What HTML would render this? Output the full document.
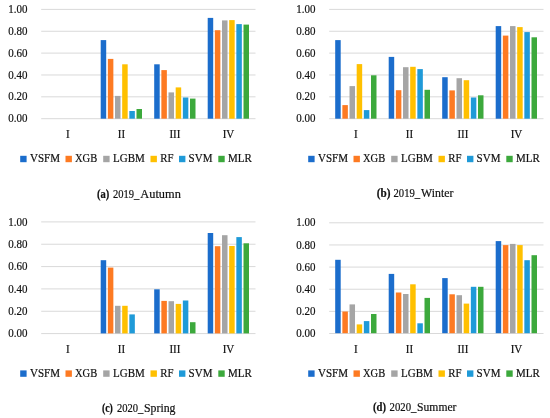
<!DOCTYPE html>
<html><head><meta charset="utf-8"><title>Figure</title>
<style>
html,body{margin:0;padding:0;background:#fff;}
body{width:550px;height:418px;overflow:hidden;}
svg{display:block;}
text{font-family:"Liberation Serif","DejaVu Serif",serif;fill:#111;stroke:#111;stroke-width:0.2px;}
.gl{stroke:#d9d9d9;stroke-width:1;}
.yl{font-size:12.2px;text-anchor:end;}
.xl{font-size:12px;text-anchor:middle;}
.lg{font-size:11.8px;}
.cap{font-size:11.5px;}
</style></head>
<body>
<svg width="550" height="418" viewBox="0 0 550 418">
<rect width="550" height="418" fill="#fff"/>
<g>
<line x1="41.2" x2="255.5" y1="118.7" y2="118.7" class="gl"/>
<line x1="41.2" x2="255.5" y1="96.84" y2="96.84" class="gl"/>
<line x1="41.2" x2="255.5" y1="74.98" y2="74.98" class="gl"/>
<line x1="41.2" x2="255.5" y1="53.12" y2="53.12" class="gl"/>
<line x1="41.2" x2="255.5" y1="31.26" y2="31.26" class="gl"/>
<line x1="41.2" x2="255.5" y1="9.4" y2="9.4" class="gl"/>
<text x="27.4" y="122.3" class="yl" textLength="19.2" lengthAdjust="spacingAndGlyphs">0.00</text>
<text x="27.4" y="100.44" class="yl" textLength="19.2" lengthAdjust="spacingAndGlyphs">0.20</text>
<text x="27.4" y="78.58" class="yl" textLength="19.2" lengthAdjust="spacingAndGlyphs">0.40</text>
<text x="27.4" y="56.72" class="yl" textLength="19.2" lengthAdjust="spacingAndGlyphs">0.60</text>
<text x="27.4" y="34.86" class="yl" textLength="19.2" lengthAdjust="spacingAndGlyphs">0.80</text>
<text x="27.4" y="13" class="yl" textLength="19.2" lengthAdjust="spacingAndGlyphs">1.00</text>
<rect x="100.7" y="40.1" width="5.5" height="78.6" fill="#1b6dcc"/>
<rect x="107.86" y="58.9" width="5.5" height="59.8" fill="#fd7a22"/>
<rect x="115.02" y="95.9" width="5.5" height="22.8" fill="#a5a5a5"/>
<rect x="122.18" y="64.3" width="5.5" height="54.4" fill="#ffc000"/>
<rect x="129.34" y="111" width="5.5" height="7.7" fill="#1f9ad8"/>
<rect x="136.5" y="109" width="5.5" height="9.7" fill="#3ca93c"/>
<rect x="154.2" y="64.3" width="5.5" height="54.4" fill="#1b6dcc"/>
<rect x="161.36" y="70.1" width="5.5" height="48.6" fill="#fd7a22"/>
<rect x="168.52" y="92.4" width="5.5" height="26.3" fill="#a5a5a5"/>
<rect x="175.68" y="87.4" width="5.5" height="31.3" fill="#ffc000"/>
<rect x="182.84" y="97.5" width="5.5" height="21.2" fill="#1f9ad8"/>
<rect x="190" y="98.6" width="5.5" height="20.1" fill="#3ca93c"/>
<rect x="207.7" y="17.9" width="5.5" height="100.8" fill="#1b6dcc"/>
<rect x="214.86" y="30.2" width="5.5" height="88.5" fill="#fd7a22"/>
<rect x="222.02" y="20.4" width="5.5" height="98.3" fill="#a5a5a5"/>
<rect x="229.18" y="20.1" width="5.5" height="98.6" fill="#ffc000"/>
<rect x="236.34" y="24.1" width="5.5" height="94.6" fill="#1f9ad8"/>
<rect x="243.5" y="24.6" width="5.5" height="94.1" fill="#3ca93c"/>
<text x="67.95" y="138" class="xl" textLength="3.7" lengthAdjust="spacingAndGlyphs">I</text>
<text x="121.45" y="138" class="xl" textLength="7.3" lengthAdjust="spacingAndGlyphs">II</text>
<text x="174.95" y="138" class="xl" textLength="11" lengthAdjust="spacingAndGlyphs">III</text>
<text x="228.45" y="138" class="xl" textLength="11.6" lengthAdjust="spacingAndGlyphs">IV</text>
<rect x="20.2" y="155.8" width="6.4" height="6.4" fill="#1b6dcc"/>
<text x="30" y="162.3" class="lg" textLength="30" lengthAdjust="spacingAndGlyphs">VSFM</text>
<rect x="65.5" y="155.8" width="6.4" height="6.4" fill="#fd7a22"/>
<text x="75" y="162.3" class="lg" textLength="22.2" lengthAdjust="spacingAndGlyphs">XGB</text>
<rect x="103.2" y="155.8" width="6.4" height="6.4" fill="#a5a5a5"/>
<text x="113" y="162.3" class="lg" textLength="31.8" lengthAdjust="spacingAndGlyphs">LGBM</text>
<rect x="150.5" y="155.8" width="6.4" height="6.4" fill="#ffc000"/>
<text x="160.3" y="162.3" class="lg" textLength="13.3" lengthAdjust="spacingAndGlyphs">RF</text>
<rect x="179" y="155.8" width="6.4" height="6.4" fill="#1f9ad8"/>
<text x="188.6" y="162.3" class="lg" textLength="23.8" lengthAdjust="spacingAndGlyphs">SVM</text>
<rect x="218.3" y="155.8" width="6.4" height="6.4" fill="#3ca93c"/>
<text x="228" y="162.3" class="lg" textLength="23.8" lengthAdjust="spacingAndGlyphs">MLR</text>
<text y="197.6" class="cap"><tspan x="97.1" textLength="12.29" lengthAdjust="spacingAndGlyphs"><tspan font-weight="bold">(a)</tspan></tspan><tspan> </tspan><tspan x="113" textLength="26.27" lengthAdjust="spacingAndGlyphs">2019_</tspan><tspan x="140.3" font-size="12" textLength="40.55" lengthAdjust="spacingAndGlyphs">Autumn</tspan></text>
</g>
<g>
<line x1="329.2" x2="543.5" y1="118.7" y2="118.7" class="gl"/>
<line x1="329.2" x2="543.5" y1="96.84" y2="96.84" class="gl"/>
<line x1="329.2" x2="543.5" y1="74.98" y2="74.98" class="gl"/>
<line x1="329.2" x2="543.5" y1="53.12" y2="53.12" class="gl"/>
<line x1="329.2" x2="543.5" y1="31.26" y2="31.26" class="gl"/>
<line x1="329.2" x2="543.5" y1="9.4" y2="9.4" class="gl"/>
<text x="315.4" y="122.3" class="yl" textLength="19.2" lengthAdjust="spacingAndGlyphs">0.00</text>
<text x="315.4" y="100.44" class="yl" textLength="19.2" lengthAdjust="spacingAndGlyphs">0.20</text>
<text x="315.4" y="78.58" class="yl" textLength="19.2" lengthAdjust="spacingAndGlyphs">0.40</text>
<text x="315.4" y="56.72" class="yl" textLength="19.2" lengthAdjust="spacingAndGlyphs">0.60</text>
<text x="315.4" y="34.86" class="yl" textLength="19.2" lengthAdjust="spacingAndGlyphs">0.80</text>
<text x="315.4" y="13" class="yl" textLength="19.2" lengthAdjust="spacingAndGlyphs">1.00</text>
<rect x="335.2" y="40.1" width="5.5" height="78.6" fill="#1b6dcc"/>
<rect x="342.36" y="105.1" width="5.5" height="13.6" fill="#fd7a22"/>
<rect x="349.52" y="86.1" width="5.5" height="32.6" fill="#a5a5a5"/>
<rect x="356.68" y="64.1" width="5.5" height="54.6" fill="#ffc000"/>
<rect x="363.84" y="110.1" width="5.5" height="8.6" fill="#1f9ad8"/>
<rect x="371" y="75.3" width="5.5" height="43.4" fill="#3ca93c"/>
<rect x="388.7" y="56.9" width="5.5" height="61.8" fill="#1b6dcc"/>
<rect x="395.86" y="90.2" width="5.5" height="28.5" fill="#fd7a22"/>
<rect x="403.02" y="67.2" width="5.5" height="51.5" fill="#a5a5a5"/>
<rect x="410.18" y="66.8" width="5.5" height="51.9" fill="#ffc000"/>
<rect x="417.34" y="69.1" width="5.5" height="49.6" fill="#1f9ad8"/>
<rect x="424.5" y="89.8" width="5.5" height="28.9" fill="#3ca93c"/>
<rect x="442.2" y="77.2" width="5.5" height="41.5" fill="#1b6dcc"/>
<rect x="449.36" y="90.4" width="5.5" height="28.3" fill="#fd7a22"/>
<rect x="456.52" y="78.2" width="5.5" height="40.5" fill="#a5a5a5"/>
<rect x="463.68" y="80.2" width="5.5" height="38.5" fill="#ffc000"/>
<rect x="470.84" y="97.5" width="5.5" height="21.2" fill="#1f9ad8"/>
<rect x="478" y="95.3" width="5.5" height="23.4" fill="#3ca93c"/>
<rect x="495.7" y="26.1" width="5.5" height="92.6" fill="#1b6dcc"/>
<rect x="502.86" y="35.6" width="5.5" height="83.1" fill="#fd7a22"/>
<rect x="510.02" y="26.1" width="5.5" height="92.6" fill="#a5a5a5"/>
<rect x="517.18" y="27.1" width="5.5" height="91.6" fill="#ffc000"/>
<rect x="524.34" y="32.1" width="5.5" height="86.6" fill="#1f9ad8"/>
<rect x="531.5" y="37.3" width="5.5" height="81.4" fill="#3ca93c"/>
<text x="355.95" y="138" class="xl" textLength="3.7" lengthAdjust="spacingAndGlyphs">I</text>
<text x="409.45" y="138" class="xl" textLength="7.3" lengthAdjust="spacingAndGlyphs">II</text>
<text x="462.95" y="138" class="xl" textLength="11" lengthAdjust="spacingAndGlyphs">III</text>
<text x="516.45" y="138" class="xl" textLength="11.6" lengthAdjust="spacingAndGlyphs">IV</text>
<rect x="308.2" y="155.8" width="6.4" height="6.4" fill="#1b6dcc"/>
<text x="318" y="162.3" class="lg" textLength="30" lengthAdjust="spacingAndGlyphs">VSFM</text>
<rect x="353.5" y="155.8" width="6.4" height="6.4" fill="#fd7a22"/>
<text x="363" y="162.3" class="lg" textLength="22.2" lengthAdjust="spacingAndGlyphs">XGB</text>
<rect x="391.2" y="155.8" width="6.4" height="6.4" fill="#a5a5a5"/>
<text x="401" y="162.3" class="lg" textLength="31.8" lengthAdjust="spacingAndGlyphs">LGBM</text>
<rect x="438.5" y="155.8" width="6.4" height="6.4" fill="#ffc000"/>
<text x="448.3" y="162.3" class="lg" textLength="13.3" lengthAdjust="spacingAndGlyphs">RF</text>
<rect x="467" y="155.8" width="6.4" height="6.4" fill="#1f9ad8"/>
<text x="476.6" y="162.3" class="lg" textLength="23.8" lengthAdjust="spacingAndGlyphs">SVM</text>
<rect x="506.3" y="155.8" width="6.4" height="6.4" fill="#3ca93c"/>
<text x="516" y="162.3" class="lg" textLength="23.8" lengthAdjust="spacingAndGlyphs">MLR</text>
<text y="197.4" class="cap"><tspan x="376.8" textLength="13.76" lengthAdjust="spacingAndGlyphs"><tspan font-weight="bold">(b)</tspan></tspan><tspan> </tspan><tspan x="393.5" textLength="26.57" lengthAdjust="spacingAndGlyphs">2019_</tspan><tspan x="421.1" font-size="12" textLength="32.25" lengthAdjust="spacingAndGlyphs">Winter</tspan></text>
</g>
<g>
<line x1="41.2" x2="255.5" y1="333.6" y2="333.6" class="gl"/>
<line x1="41.2" x2="255.5" y1="311.26" y2="311.26" class="gl"/>
<line x1="41.2" x2="255.5" y1="288.92" y2="288.92" class="gl"/>
<line x1="41.2" x2="255.5" y1="266.58" y2="266.58" class="gl"/>
<line x1="41.2" x2="255.5" y1="244.24" y2="244.24" class="gl"/>
<line x1="41.2" x2="255.5" y1="221.9" y2="221.9" class="gl"/>
<text x="27.4" y="337.2" class="yl" textLength="19.2" lengthAdjust="spacingAndGlyphs">0.00</text>
<text x="27.4" y="314.86" class="yl" textLength="19.2" lengthAdjust="spacingAndGlyphs">0.20</text>
<text x="27.4" y="292.52" class="yl" textLength="19.2" lengthAdjust="spacingAndGlyphs">0.40</text>
<text x="27.4" y="270.18" class="yl" textLength="19.2" lengthAdjust="spacingAndGlyphs">0.60</text>
<text x="27.4" y="247.84" class="yl" textLength="19.2" lengthAdjust="spacingAndGlyphs">0.80</text>
<text x="27.4" y="225.5" class="yl" textLength="19.2" lengthAdjust="spacingAndGlyphs">1.00</text>
<rect x="100.7" y="260.2" width="5.5" height="73.2" fill="#1b6dcc"/>
<rect x="107.86" y="267.6" width="5.5" height="65.8" fill="#fd7a22"/>
<rect x="115.02" y="305.8" width="5.5" height="27.6" fill="#a5a5a5"/>
<rect x="122.18" y="305.8" width="5.5" height="27.6" fill="#ffc000"/>
<rect x="129.34" y="314.4" width="5.5" height="19" fill="#1f9ad8"/>
<rect x="154.2" y="289.3" width="5.5" height="44.1" fill="#1b6dcc"/>
<rect x="161.36" y="300.9" width="5.5" height="32.5" fill="#fd7a22"/>
<rect x="168.52" y="301.2" width="5.5" height="32.2" fill="#a5a5a5"/>
<rect x="175.68" y="303.9" width="5.5" height="29.5" fill="#ffc000"/>
<rect x="182.84" y="300.5" width="5.5" height="32.9" fill="#1f9ad8"/>
<rect x="190" y="322.2" width="5.5" height="11.2" fill="#3ca93c"/>
<rect x="207.7" y="233" width="5.5" height="100.4" fill="#1b6dcc"/>
<rect x="214.86" y="246.2" width="5.5" height="87.2" fill="#fd7a22"/>
<rect x="222.02" y="235.2" width="5.5" height="98.2" fill="#a5a5a5"/>
<rect x="229.18" y="246" width="5.5" height="87.4" fill="#ffc000"/>
<rect x="236.34" y="237.1" width="5.5" height="96.3" fill="#1f9ad8"/>
<rect x="243.5" y="243.3" width="5.5" height="90.1" fill="#3ca93c"/>
<text x="67.95" y="352.7" class="xl" textLength="3.7" lengthAdjust="spacingAndGlyphs">I</text>
<text x="121.45" y="352.7" class="xl" textLength="7.3" lengthAdjust="spacingAndGlyphs">II</text>
<text x="174.95" y="352.7" class="xl" textLength="11" lengthAdjust="spacingAndGlyphs">III</text>
<text x="228.45" y="352.7" class="xl" textLength="11.6" lengthAdjust="spacingAndGlyphs">IV</text>
<rect x="20.2" y="370.4" width="6.4" height="6.4" fill="#1b6dcc"/>
<text x="30" y="377.1" class="lg" textLength="30" lengthAdjust="spacingAndGlyphs">VSFM</text>
<rect x="65.5" y="370.4" width="6.4" height="6.4" fill="#fd7a22"/>
<text x="75" y="377.1" class="lg" textLength="22.2" lengthAdjust="spacingAndGlyphs">XGB</text>
<rect x="103.2" y="370.4" width="6.4" height="6.4" fill="#a5a5a5"/>
<text x="113" y="377.1" class="lg" textLength="31.8" lengthAdjust="spacingAndGlyphs">LGBM</text>
<rect x="150.5" y="370.4" width="6.4" height="6.4" fill="#ffc000"/>
<text x="160.3" y="377.1" class="lg" textLength="13.3" lengthAdjust="spacingAndGlyphs">RF</text>
<rect x="179" y="370.4" width="6.4" height="6.4" fill="#1f9ad8"/>
<text x="188.6" y="377.1" class="lg" textLength="23.8" lengthAdjust="spacingAndGlyphs">SVM</text>
<rect x="218.3" y="370.4" width="6.4" height="6.4" fill="#3ca93c"/>
<text x="228" y="377.1" class="lg" textLength="23.8" lengthAdjust="spacingAndGlyphs">MLR</text>
<text y="411.5" class="cap"><tspan x="101.9" textLength="11" lengthAdjust="spacingAndGlyphs"><tspan font-weight="bold">(c)</tspan></tspan><tspan> </tspan><tspan x="117" textLength="26.37" lengthAdjust="spacingAndGlyphs">2020_</tspan><tspan x="144" font-size="12" textLength="31.52" lengthAdjust="spacingAndGlyphs">Spring</tspan></text>
</g>
<g>
<line x1="329.2" x2="543.5" y1="333.5" y2="333.5" class="gl"/>
<line x1="329.2" x2="543.5" y1="311.36" y2="311.36" class="gl"/>
<line x1="329.2" x2="543.5" y1="289.22" y2="289.22" class="gl"/>
<line x1="329.2" x2="543.5" y1="267.08" y2="267.08" class="gl"/>
<line x1="329.2" x2="543.5" y1="244.94" y2="244.94" class="gl"/>
<line x1="329.2" x2="543.5" y1="222.8" y2="222.8" class="gl"/>
<text x="315.4" y="337.1" class="yl" textLength="19.2" lengthAdjust="spacingAndGlyphs">0.00</text>
<text x="315.4" y="314.96" class="yl" textLength="19.2" lengthAdjust="spacingAndGlyphs">0.20</text>
<text x="315.4" y="292.82" class="yl" textLength="19.2" lengthAdjust="spacingAndGlyphs">0.40</text>
<text x="315.4" y="270.68" class="yl" textLength="19.2" lengthAdjust="spacingAndGlyphs">0.60</text>
<text x="315.4" y="248.54" class="yl" textLength="19.2" lengthAdjust="spacingAndGlyphs">0.80</text>
<text x="315.4" y="226.4" class="yl" textLength="19.2" lengthAdjust="spacingAndGlyphs">1.00</text>
<rect x="335.2" y="259.8" width="5.5" height="73.4" fill="#1b6dcc"/>
<rect x="342.36" y="311.5" width="5.5" height="21.7" fill="#fd7a22"/>
<rect x="349.52" y="304.4" width="5.5" height="28.8" fill="#a5a5a5"/>
<rect x="356.68" y="324.4" width="5.5" height="8.8" fill="#ffc000"/>
<rect x="363.84" y="321.1" width="5.5" height="12.1" fill="#1f9ad8"/>
<rect x="371" y="314" width="5.5" height="19.2" fill="#3ca93c"/>
<rect x="388.7" y="273.9" width="5.5" height="59.3" fill="#1b6dcc"/>
<rect x="395.86" y="292.5" width="5.5" height="40.7" fill="#fd7a22"/>
<rect x="403.02" y="294" width="5.5" height="39.2" fill="#a5a5a5"/>
<rect x="410.18" y="284.3" width="5.5" height="48.9" fill="#ffc000"/>
<rect x="417.34" y="323.3" width="5.5" height="9.9" fill="#1f9ad8"/>
<rect x="424.5" y="297.9" width="5.5" height="35.3" fill="#3ca93c"/>
<rect x="442.2" y="278.1" width="5.5" height="55.1" fill="#1b6dcc"/>
<rect x="449.36" y="294.3" width="5.5" height="38.9" fill="#fd7a22"/>
<rect x="456.52" y="295.2" width="5.5" height="38" fill="#a5a5a5"/>
<rect x="463.68" y="303.6" width="5.5" height="29.6" fill="#ffc000"/>
<rect x="470.84" y="286.8" width="5.5" height="46.4" fill="#1f9ad8"/>
<rect x="478" y="286.8" width="5.5" height="46.4" fill="#3ca93c"/>
<rect x="495.7" y="241.1" width="5.5" height="92.1" fill="#1b6dcc"/>
<rect x="502.86" y="245.1" width="5.5" height="88.1" fill="#fd7a22"/>
<rect x="510.02" y="243.9" width="5.5" height="89.3" fill="#a5a5a5"/>
<rect x="517.18" y="245.1" width="5.5" height="88.1" fill="#ffc000"/>
<rect x="524.34" y="260.2" width="5.5" height="73" fill="#1f9ad8"/>
<rect x="531.5" y="255.2" width="5.5" height="78" fill="#3ca93c"/>
<text x="355.95" y="352.9" class="xl" textLength="3.7" lengthAdjust="spacingAndGlyphs">I</text>
<text x="409.45" y="352.9" class="xl" textLength="7.3" lengthAdjust="spacingAndGlyphs">II</text>
<text x="462.95" y="352.9" class="xl" textLength="11" lengthAdjust="spacingAndGlyphs">III</text>
<text x="516.45" y="352.9" class="xl" textLength="11.6" lengthAdjust="spacingAndGlyphs">IV</text>
<rect x="308.2" y="370.4" width="6.4" height="6.4" fill="#1b6dcc"/>
<text x="318" y="377.2" class="lg" textLength="30" lengthAdjust="spacingAndGlyphs">VSFM</text>
<rect x="353.5" y="370.4" width="6.4" height="6.4" fill="#fd7a22"/>
<text x="363" y="377.2" class="lg" textLength="22.2" lengthAdjust="spacingAndGlyphs">XGB</text>
<rect x="391.2" y="370.4" width="6.4" height="6.4" fill="#a5a5a5"/>
<text x="401" y="377.2" class="lg" textLength="31.8" lengthAdjust="spacingAndGlyphs">LGBM</text>
<rect x="438.5" y="370.4" width="6.4" height="6.4" fill="#ffc000"/>
<text x="448.3" y="377.2" class="lg" textLength="13.3" lengthAdjust="spacingAndGlyphs">RF</text>
<rect x="467" y="370.4" width="6.4" height="6.4" fill="#1f9ad8"/>
<text x="476.6" y="377.2" class="lg" textLength="23.8" lengthAdjust="spacingAndGlyphs">SVM</text>
<rect x="506.3" y="370.4" width="6.4" height="6.4" fill="#3ca93c"/>
<text x="516" y="377.2" class="lg" textLength="23.8" lengthAdjust="spacingAndGlyphs">MLR</text>
<text y="411.4" class="cap"><tspan x="373.1" textLength="12.96" lengthAdjust="spacingAndGlyphs"><tspan font-weight="bold">(d)</tspan></tspan><tspan> </tspan><tspan x="389.6" textLength="26.87" lengthAdjust="spacingAndGlyphs">2020_</tspan><tspan x="417.1" font-size="12" textLength="39.38" lengthAdjust="spacingAndGlyphs">Summer</tspan></text>
</g>
</svg>
</body></html>
